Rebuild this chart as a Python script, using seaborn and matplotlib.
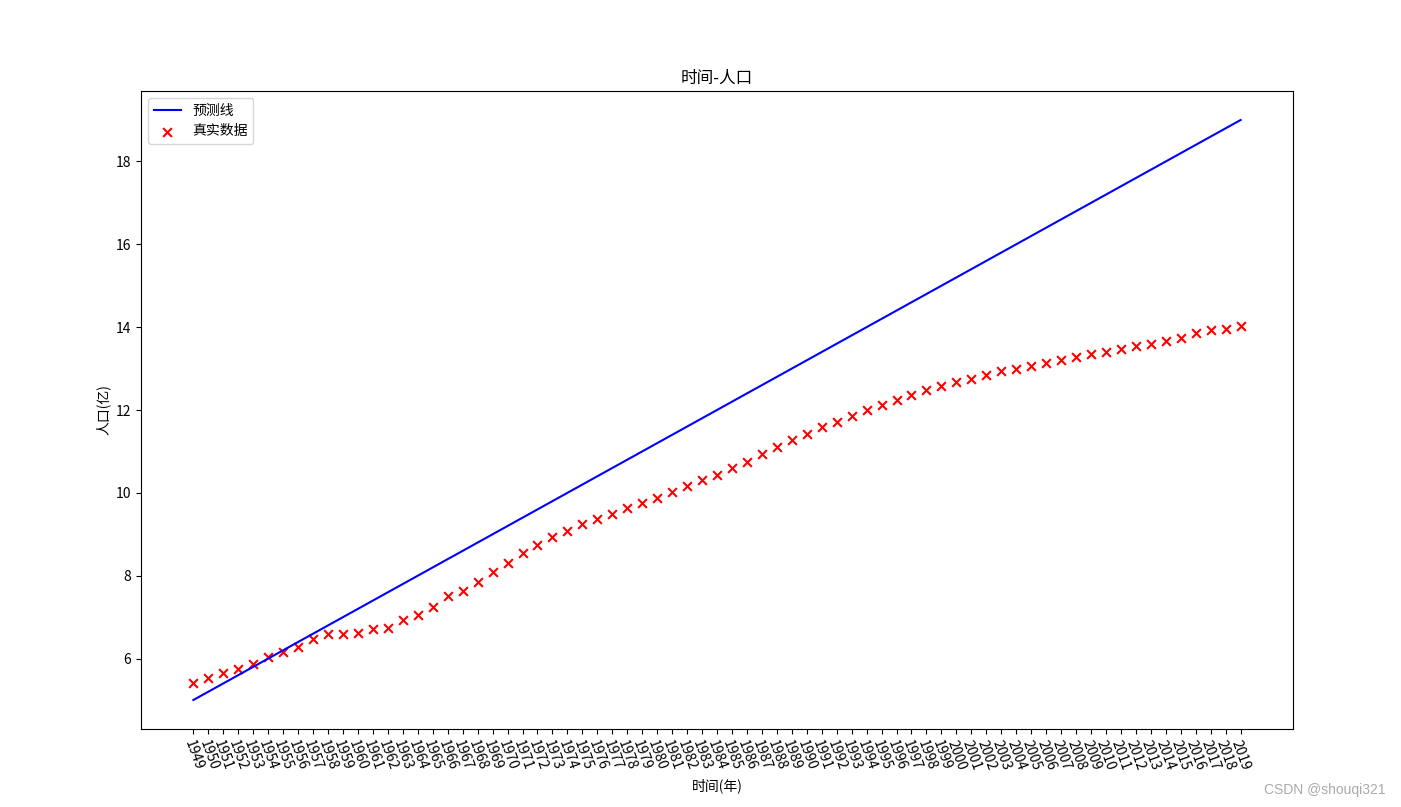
import numpy as np
import pandas as pd
import matplotlib
matplotlib.use("Agg")
import matplotlib.pyplot as plt
import seaborn as sns

# ---- data ----
years = list(range(1949, 2020))
population = [5.42, 5.53, 5.64, 5.75, 5.88, 6.03, 6.15, 6.28, 6.47, 6.60,
              6.60, 6.62, 6.72, 6.74, 6.92, 7.05, 7.25, 7.50, 7.64, 7.85,
              8.08, 8.31, 8.54, 8.73, 8.93, 9.09, 9.25, 9.37, 9.50, 9.63,
              9.75, 9.87, 10.01, 10.17, 10.30, 10.44, 10.59, 10.75, 10.93, 11.10,
              11.27, 11.43, 11.59, 11.72, 11.86, 11.99, 12.12, 12.25, 12.37, 12.49,
              12.59, 12.68, 12.76, 12.85, 12.93, 13.00, 13.07, 13.14, 13.21, 13.28,
              13.35, 13.41, 13.48, 13.55, 13.60, 13.67, 13.75, 13.85, 13.92, 13.96,
              14.02]
pred_years = [1949, 2019]
pred_values = [5.0, 19.0]
title = "时间-人口"
xlabel = "时间(年)"
ylabel = "人口(亿)"
line_label = "预测线"
scatter_label = "真实数据"

df_real = pd.DataFrame({"year": years, "pop": population})
df_pred = pd.DataFrame({"year": pred_years, "pop": pred_values})

plt.rcParams["font.family"] = ["Noto Sans CJK SC", "DejaVu Sans"]
plt.rcParams["axes.unicode_minus"] = False

fig = plt.figure(figsize=(14.01, 8.07), dpi=100)
ax = fig.add_axes([141 / 1401, 1 - 729 / 807, (1293 - 141) / 1401, (729 - 91) / 807])

sns.lineplot(data=df_pred, x="year", y="pop", ax=ax, color="blue",
             linewidth=1.5, label=line_label)
sns.scatterplot(data=df_real, x="year", y="pop", ax=ax, color="red",
                marker="x", s=40, linewidths=1.5, label=scatter_label)

ax.set_xticks(years)
ax.set_xticklabels([str(y) for y in years], rotation=-70, fontsize=10)
ax.tick_params(axis="y", labelsize=10)
ax.set_title(title, fontsize=12)
ax.set_xlabel(xlabel, fontsize=10)
ax.set_ylabel(ylabel, fontsize=10)
ax.legend(loc="upper left", fontsize=10)

fig.text(1385 / 1401, 1 - 790 / 807, "CSDN @shouqi321", ha="right", va="center",
         color="#aaaaaa", fontsize=10, family=["Liberation Sans", "DejaVu Sans"])

fig.savefig("out.png", dpi=100)
